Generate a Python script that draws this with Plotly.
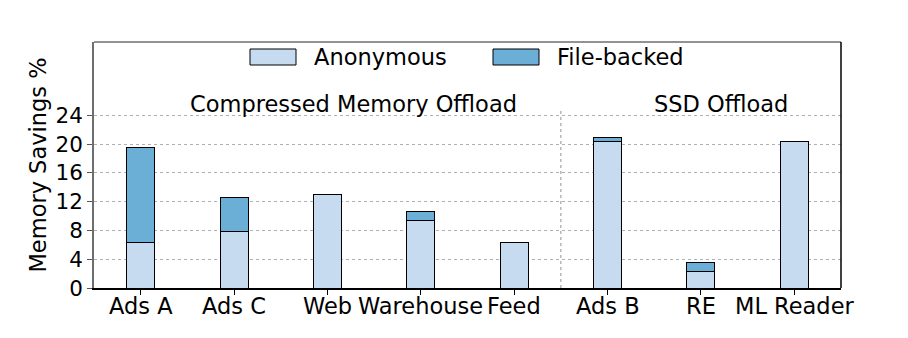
import plotly.graph_objects as go

categories = ["Ads A", "Ads C", "Web", "Warehouse", "Feed", "Ads B", "RE", "ML Reader"]
anonymous = [6.3, 7.8, 13.0, 9.4, 6.3, 20.4, 2.3, 20.3]
file_backed = [13.3, 4.8, 0.0, 1.3, 0.0, 0.5, 1.3, 0.0]
y_ticks = [0, 4, 8, 12, 16, 20, 24]

FONT = "DejaVu Sans"
C_ANON = "#c6dbef"
C_FILE = "#6baed6"
FS = 22.5

x = list(range(len(categories)))

fig = go.Figure()
fig.add_trace(go.Bar(x=x, y=anonymous, name="Anonymous", width=0.3,
                     marker=dict(color=C_ANON, line=dict(color="black", width=1)),
                     showlegend=False))
fig.add_trace(go.Bar(x=x, y=file_backed, name="File-backed", width=0.3,
                     marker=dict(color=C_FILE, line=dict(color="black", width=1)),
                     showlegend=False))

fig.update_layout(
    barmode="stack",
    width=908, height=338,
    margin=dict(l=94, r=67, t=42, b=50),
    paper_bgcolor="white", plot_bgcolor="white",
    font=dict(family=FONT, size=FS, color="black"),
    xaxis=dict(range=[-0.5, 7.5], tickmode="array", tickvals=x,
               showticklabels=False,
               ticks="outside", ticklen=5, tickcolor="black",
               showline=True, linecolor="black", linewidth=1.5, mirror=False,
               showgrid=False, zeroline=False),
    yaxis=dict(range=[0, 34.2], tickmode="array", tickvals=y_ticks,
               ticks="outside", ticklen=5, tickcolor="#555555",
               showline=True, linecolor="#6e6e6e", linewidth=1.5, mirror=False,
               showgrid=True, gridcolor="#b0b0b0", griddash="dot", gridwidth=1,
               zeroline=False, tickfont=dict(size=21.5),
               title=dict(text="Memory Savings %", font=dict(size=FS), standoff=3)),
)

# x tick labels (placed closer to the axis, matplotlib-like)
for xi, lab in zip(x, categories):
    fig.add_annotation(x=xi, y=0, xref="x", yref="paper", text=lab, showarrow=False,
                       xanchor="center", yanchor="top", yshift=-3, font=dict(size=FS))

# top and right spines
fig.add_shape(type="line", xref="paper", yref="paper", x0=0, x1=1, y0=1, y1=1,
              line=dict(color="#6e6e6e", width=1.5))
fig.add_shape(type="line", xref="paper", yref="paper", x0=1, x1=1, y0=0, y1=1,
              line=dict(color="black", width=1.5))

# separator between groups
fig.add_shape(type="line", xref="x", yref="y", x0=4.5, x1=4.5, y0=0, y1=24.7,
              line=dict(color="#909090", width=1, dash="dot"))

fig.add_annotation(x=2.28, y=25.6, xref="x", yref="y", text="Compressed Memory Offload",
                   showarrow=False, font=dict(size=FS), xanchor="center", yanchor="middle")
fig.add_annotation(x=6.22, y=25.6, xref="x", yref="y", text="SSD Offload",
                   showarrow=False, font=dict(size=FS), xanchor="center", yanchor="middle")

# manual legend (matplotlib style wide patches)
legend_items = [("Anonymous", C_ANON, 250), ("File-backed", C_FILE, 493)]
for label, col, px in legend_items:
    x0 = (px - 94) / 747
    x1 = (px + 46 - 94) / 747
    y0 = (288 - 65) / 246
    y1 = (288 - 49) / 246
    fig.add_shape(type="rect", xref="paper", yref="paper", x0=x0, x1=x1, y0=y0, y1=y1,
                  fillcolor=col, line=dict(color="black", width=1))
    fig.add_annotation(x=(px + 62 - 94) / 747, y=(288 - 57) / 246, xref="paper", yref="paper",
                       text=label, showarrow=False, xanchor="left", yanchor="middle",
                       font=dict(size=FS))

fig.write_html("out.html")
